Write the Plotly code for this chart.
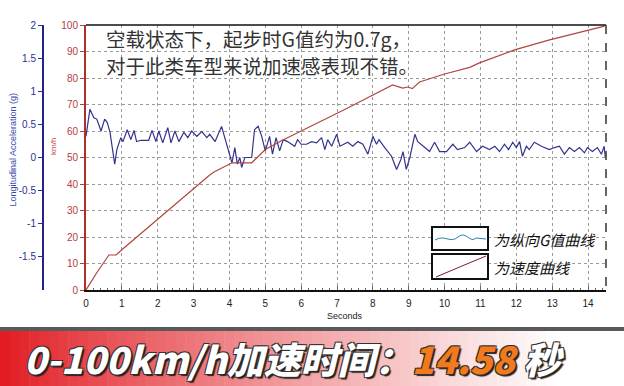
import plotly.graph_objects as go

# ---------------- data ----------------
speed_t = [0, 0.3, 0.64, 0.84, 1.0, 1.5, 1.98, 2.5, 3.0, 3.45, 3.57, 4.07, 4.62, 5.0, 5.45,
           6.24, 7.0, 7.27, 8.0, 8.55, 8.83, 8.97, 9.1, 9.3, 10.0, 10.7, 10.97, 11.95, 12.9,
           13.95, 14.46]
speed_kmh = [0, 6.5, 13.2, 13.2, 15.2, 21, 26.4, 32.5, 38.5, 43.4, 44.5, 48, 48, 53, 56.3,
             61.5, 66.8, 68.5, 73.6, 77.4, 76.2, 76.6, 76.0, 78.5, 81.5, 84, 85.7, 90.6, 94.3,
             98, 99.6]

g_t = [0, 0.11, 0.22, 0.3, 0.42, 0.52, 0.59, 0.67, 0.8, 0.86, 0.97, 1.03, 1.15, 1.25, 1.34,
       1.41, 1.53, 1.75, 1.84, 1.95, 2.03, 2.14, 2.28, 2.37, 2.48, 2.59, 2.73, 2.84, 2.95,
       3.09, 3.23, 3.37, 3.45, 3.6, 3.78, 3.86, 4.07, 4.15, 4.22, 4.29, 4.34, 4.43, 4.62,
       4.7, 4.8, 4.9, 5.0, 5.12, 5.2, 5.3, 5.4, 5.5, 5.62, 5.82, 5.9, 6.0, 6.15, 6.29, 6.43,
       6.57, 6.66, 6.74, 6.85, 6.99, 7.08, 7.3, 7.44, 7.58, 7.72, 7.86, 8.0, 8.1, 8.17, 8.33,
       8.52, 8.66, 8.78, 8.84, 8.93, 9.03, 9.17, 9.25, 9.35, 9.45, 9.58, 9.72, 9.86, 10.05,
       10.23, 10.36, 10.56, 10.7, 10.89, 11.06, 11.25, 11.4, 11.53, 11.67, 11.78, 11.9, 12.0,
       12.09, 12.17, 12.28, 12.36, 12.5, 12.7, 12.92, 13.06, 13.2, 13.34, 13.48, 13.62,
       13.76, 13.9, 13.98, 14.12, 14.26, 14.37, 14.45, 14.48]
g_val = [0.32, 0.73, 0.6, 0.58, 0.4, 0.58, 0.53, 0.38, -0.1, 0.12, 0.3, 0.24, 0.42, 0.27,
         0.41, 0.24, 0.26, 0.26, 0.41, 0.24, 0.4, 0.22, 0.45, 0.22, 0.4, 0.24, 0.38, 0.3, 0.4,
         0.32, 0.39, 0.3, 0.35, 0.24, 0.47, 0.32, -0.08, 0.15, -0.1, 0.0, -0.15, 0.0, 0.0,
         0.42, 0.47, 0.32, 0.1, 0.32, 0.05, 0.3, 0.1, 0.27, 0.24, 0.17, 0.27, 0.2, 0.2, 0.24,
         0.22, 0.3, 0.12, 0.27, 0.17, 0.35, 0.17, 0.23, 0.17, 0.24, 0.2, 0.05, 0.32, 0.2, 0.27,
         0.15, 0.02, -0.18, -0.03, 0.09, -0.18, 0.0, 0.35, 0.24, 0.2, 0.15, 0.09, 0.23, 0.09,
         0.09, 0.2, 0.12, 0.15, 0.23, 0.09, 0.17, 0.12, 0.17, 0.09, 0.2, 0.12, 0.23, 0.15,
         0.24, 0.02, 0.17, 0.12, 0.23, 0.17, 0.12, 0.15, 0.17, 0.05, 0.15, 0.09, 0.15, 0.07,
         0.15, 0.09, 0.15, 0.05, 0.17, 0.0]

x_ticks = list(range(0, 15))
g_ticks = [-1.5, -1, -0.5, 0, 0.5, 1, 1.5, 2]
g_tick_text = ["-1.5", "-1", "-0.5", "0", "0.5", "1", "1.5", "2"]
kmh_ticks = list(range(0, 101, 10))

note_lines = ["空载状态下，起步时G值约为0.7g，", "对于此类车型来说加速感表现不错。"]
legend_labels = ["为纵向G值曲线", "为速度曲线"]
banner_main = "0-100km/h加速时间："
banner_value = "14.58"
banner_unit = "秒"

# ---------------- layout helpers ----------------
W, H = 624, 386
def px(x):
    return x / W
def py(y):
    return 1 - y / H

X0, X1, Y0, Y1 = 86, 606, 25, 290
BLUE = "#2e2e8e"
RED = "#b3403a"

fig = go.Figure()
fig.add_trace(go.Scatter(x=g_t, y=g_val, mode="lines", yaxis="y",
                         line=dict(color="#33338f", width=1.2), showlegend=False))
fig.add_trace(go.Scatter(x=speed_t, y=speed_kmh, mode="lines", yaxis="y2",
                         line=dict(color="#b0453f", width=1.2), showlegend=False))

shapes = []
# banner gradient
n = 64
for i in range(n):
    f = i / (n - 1)
    k = min(1.0, f / 0.9) ** 0.85
    r = int(226 + (255 - 226) * k)
    g = int(28 + (255 - 28) * k)
    b = int(34 + (255 - 34) * k)
    shapes.append(dict(type="rect", xref="paper", yref="paper",
                       x0=px(i * W / n), x1=px((i + 1) * W / n + 0.5),
                       y0=py(386), y1=py(331), line=dict(width=0),
                       fillcolor=f"rgb({r},{g},{b})", layer="below"))
shapes.append(dict(type="rect", xref="paper", yref="paper", x0=0, x1=1,
                   y0=py(331), y1=py(327), line=dict(width=0), fillcolor="#5a5a5a"))
# top border and dashed right border
shapes.append(dict(type="line", xref="paper", yref="paper", x0=px(X0), x1=px(X1),
                   y0=py(Y0), y1=py(Y0), line=dict(color="#111", width=1.5)))
shapes.append(dict(type="line", xref="paper", yref="paper", x0=px(X1), x1=px(X1),
                   y0=py(Y0), y1=py(Y1), line=dict(color="#333", width=1.5, dash="dash")))
# legend boxes
for (bx0, by0, bx1, by1) in [(432, 227, 488, 250), (432, 254, 488, 279)]:
    shapes.append(dict(type="rect", xref="paper", yref="paper", x0=px(bx0), x1=px(bx1),
                       y0=py(by1), y1=py(by0), line=dict(color="#111", width=2),
                       fillcolor="white"))
# legend sample lines
shapes.append(dict(type="path", xref="paper", yref="paper",
                   path=(f"M {px(435)},{py(240)} C {px(445)},{py(234)} {px(450)},{py(244)} {px(458)},{py(237)}"
                         f" S {px(470)},{py(244)} {px(476)},{py(238)} L {px(486)},{py(239)}"),
                   line=dict(color="#2a7fa8", width=1)))
shapes.append(dict(type="path", xref="paper", yref="paper",
                   path=f"M {px(436)},{py(277)} L {px(462)},{py(266)} L {px(486)},{py(256)}",
                   line=dict(color="#7a1f2a", width=1)))

annotations = []
for i, line in enumerate(note_lines):
    annotations.append(dict(text=line, xref="paper", yref="paper", x=px(104), y=py(38 + i * 28),
                            xanchor="left", yanchor="middle", showarrow=False,
                            font=dict(family="Noto Sans CJK SC", size=19.5, color="#333")))
for i, lab in enumerate(legend_labels):
    annotations.append(dict(text=lab, xref="paper", yref="paper", x=px(492), y=py(239 + i * 28),
                            xanchor="left", yanchor="middle", showarrow=False,
                            font=dict(family="Noto Sans CJK SC", size=15, color="#111",
                                      style="italic")))
annotations.append(dict(text="Longitudinal Acceleration (g)", xref="paper", yref="paper",
                        x=px(12.5), y=py(150), textangle=-90, showarrow=False,
                        xanchor="center", yanchor="middle",
                        font=dict(family="Liberation Sans", size=9, color="#3a4aa8")))
annotations.append(dict(text="km/h", xref="paper", yref="paper",
                        x=px(53), y=py(147), textangle=-90, showarrow=False,
                        xanchor="center", yanchor="middle",
                        font=dict(family="Liberation Sans", size=8, color="#c0504a")))
annotations.append(dict(text="Seconds", xref="paper", yref="paper",
                        x=px(345), y=py(315.5), showarrow=False,
                        xanchor="center", yanchor="middle",
                        font=dict(family="Liberation Sans", size=9, color="#222")))
annotations.append(dict(
    text=f'{banner_main}<span style="color:#f27a1c">{banner_value}</span> {banner_unit}',
    xref="paper", yref="paper", x=px(22), y=py(358), xanchor="left", yanchor="middle",
    showarrow=False,
    font=dict(family="Noto Sans CJK SC", size=37, color="white", weight=900, style="italic",
              shadow="-1px -1px 0 #333, 1px -1px 0 #333, -1px 1px 0 #333, 2px 2px 1px #222")))

fig.update_layout(
    template="none",
    width=W, height=H, margin=dict(l=0, r=0, t=0, b=0, autoexpand=False),
    paper_bgcolor="white", plot_bgcolor="white", showlegend=False,
    shapes=shapes, annotations=annotations,
    xaxis=dict(domain=[px(X0), px(X1)], range=[0, 14.5], tickvals=x_ticks, automargin=False,
               showline=True, linecolor="#111", linewidth=2, ticks="inside", ticklen=4,
               tickcolor="#666", showgrid=True, gridcolor="#9a9a9a", griddash="3px,3px",
               gridwidth=1, zeroline=False, ticklabelstandoff=3,
               tickfont=dict(family="Liberation Sans", size=10, color="#222"),
               minor=dict(dtick=0.2, ticks="inside", ticklen=2, tickcolor="#666", showgrid=False)),
    yaxis=dict(domain=[py(Y1), py(Y0)], range=[-2, 2], anchor="free", position=px(43),
               side="left", tickvals=g_ticks, ticktext=g_tick_text, showline=True,
               automargin=False,
               linecolor="#23238a", linewidth=2, ticks="outside", ticklen=4, tickcolor=BLUE,
               showgrid=False, zeroline=False,
               tickfont=dict(family="Liberation Sans", size=10, color=BLUE)),
    yaxis2=dict(domain=[py(Y1), py(Y0)], range=[0, 100], overlaying="y", anchor="x",
                side="left", tickvals=kmh_ticks, showline=True, linecolor="#b0302a",
                automargin=False,
                linewidth=2, ticks="outside", ticklen=4, tickcolor=RED,
                showgrid=True, gridcolor="#9a9a9a", griddash="3px,3px", zeroline=False,
                tickfont=dict(family="Liberation Sans", size=10, color=RED)),
)

fig.write_html("out.html")
